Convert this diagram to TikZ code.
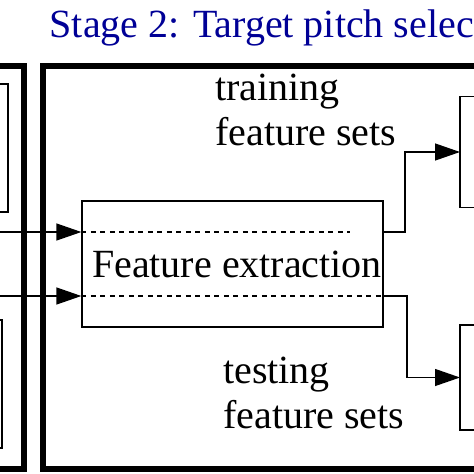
\documentclass[tikz,border=0pt]{standalone}
\usepackage{fontspec}
\newfontfamily\timesfont{Liberation Serif}
\usetikzlibrary{arrows.meta,positioning,calc}
\definecolor{titleblue}{RGB}{0,0,150}
\tikzset{
  frame/.style={draw=black,line width=6pt},
  bx/.style={draw=black,line width=1.3pt,inner sep=0pt},
  ar/.style={-{Triangle[length=25pt,width=17pt]},line width=1.3pt},
  ln/.style={line width=1.3pt},
  dsh/.style={line width=1.3pt,dash pattern=on 5pt off 4.5pt},
  lbl/.style={font=\timesfont\fontsize{40}{45}\selectfont,inner sep=0pt},
}

\begin{document}
\begin{tikzpicture}[x=1pt,y=-1pt]
    \useasboundingbox (0,0) rectangle (474,474);
    % title
    \node[lbl,anchor=base east,text=titleblue] (ttl) at (474,37) {Stage 2: Target pitch selec};
    % stage frames, cut at the edges
    \draw[frame] (0,65.5) -- (23.7,65.5) -- (23.7,468.5) -- (0,468.5);
    \draw[frame] (474,65.5) -- (43,65.5) -- (43,468.5) -- (474,468.5);
    \draw[ln] (0,84) -- (8,84) -- (8,212) -- (0,212);
    \draw[line width=2pt] (0,320) -- (1.5,320) -- (1.5,448) -- (0,448);
    \draw[ln] (474,96.5) -- (460,96.5) -- (460,207.5) -- (474,207.5);
    \draw[ln] (474,325) -- (460,325) -- (460,430) -- (474,430);
    \coordinate (trn) at (460,152);
    \coordinate (tst) at (460,377.5);
    % feature extraction
    \node[bx,minimum width=301pt,minimum height=126pt] (fe) at (232.5,264) {};
    \node[lbl] (fetxt) at ([xshift=4.5pt]fe.center) {Feature extraction};
    \coordinate (in1) at (0,232);
    \coordinate (in2) at (0,296);
    \draw[ar] (in1) -- (in1 -| fe.west);
    \draw[ar] (in2) -- (in2 -| fe.west);
    \draw[dsh] (in1 -| fe.west) -- (350,232);
    \draw[dsh] (in2 -| fe.west) -- (in2 -| fe.east);
    \draw[ar] (in1 -| fe.east) -- (405,232) |- (trn);
    \draw[ar] (in2 -| fe.east) -- (407,296) |- (tst);
    \node[lbl,anchor=base west,align=left] (trnlbl) at (215,145) {training\\feature sets};
    \node[lbl,anchor=base west,align=left] (tstlbl) at (223,428) {testing\\feature sets};
  \end{tikzpicture}
\end{document}
